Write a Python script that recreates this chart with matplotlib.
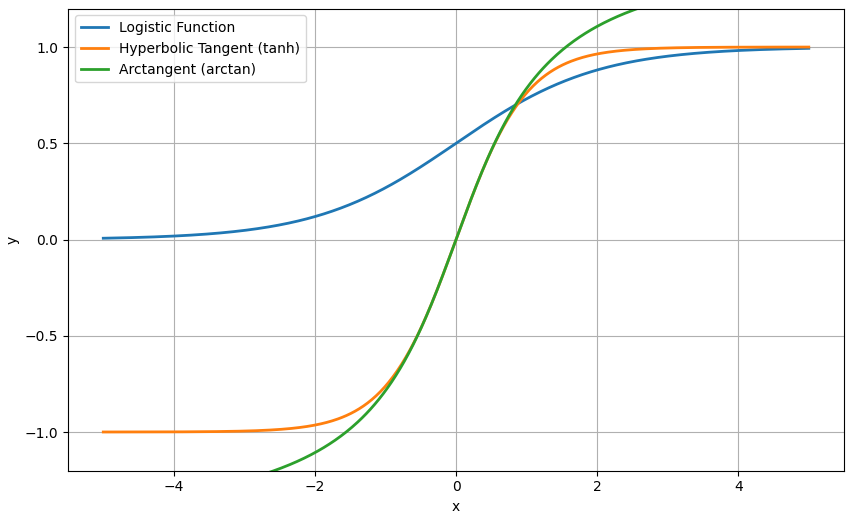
import numpy as np
import matplotlib
matplotlib.use("Agg")
import matplotlib.pyplot as plt

# the curves are the three functions themselves, sampled on [-5, 5]
x = np.linspace(-5, 5, 500)
y_logistic = 1 / (1 + np.exp(-x))
y_tanh = np.tanh(x)
y_arctan = np.arctan(x)

fig = plt.figure(figsize=(8.5, 5.15), dpi=100)
ax = fig.add_axes([0.08, 0.0864, 0.913, 0.897])
ax.plot(x, y_logistic, lw=2, label="Logistic Function")
ax.plot(x, y_tanh, lw=2, label="Hyperbolic Tangent (tanh)")
ax.plot(x, y_arctan, lw=2, label="Arctangent (arctan)")
ax.set_ylim(-1.2, 1.2)
ax.set_xlabel("x")
ax.set_ylabel("y")
ax.legend(loc="upper left")
ax.grid(True)
fig.savefig("out.png")
